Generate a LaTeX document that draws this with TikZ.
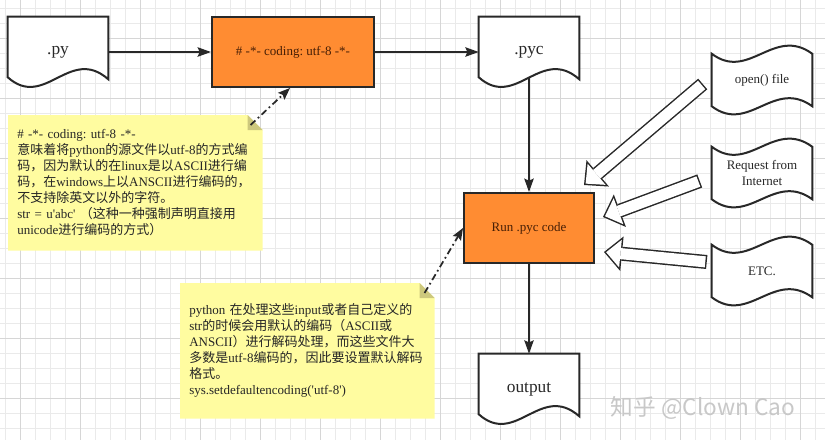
\documentclass[tikz,border=0pt]{standalone}
\usepackage{fontspec}
\newfontfamily\latfont{Liberation Serif}
\newfontfamily\cjkfont{Noto Sans CJK SC}
\newcommand\zh[1]{{\cjkfont #1}}
\frenchspacing
\usetikzlibrary{arrows.meta,calc}
\pgfdeclarelayer{grid}
\pgfdeclarelayer{shapes}
\pgfsetlayers{grid,shapes,main}

\definecolor{linecol}{RGB}{40,40,40}
\definecolor{boxorange}{RGB}{255,140,50}
\definecolor{boxtext}{RGB}{70,30,5}
\definecolor{notefill}{RGB}{255,252,160}
\definecolor{foldfill}{RGB}{205,200,125}
\definecolor{minorgrid}{RGB}{234,234,234}
\definecolor{majorgrid}{RGB}{214,214,214}
\definecolor{markgray}{RGB}{200,200,200}

\tikzset{
  flow/.style={draw=linecol, line width=1.5pt, -{Stealth[length=10pt,width=7pt,inset=1.5pt]}},
  hint/.style={draw=linecol, line width=1.3pt, dash pattern=on 5pt off 2.5pt on 1.3pt off 2.5pt, -{Stealth[length=9pt,width=7pt,inset=1.5pt]}},
  fatout/.style={draw=linecol, line width=10.5pt, -{Triangle[length=13.5pt,width=26pt,line width=0pt]}},
  fatin/.style={draw=white, line width=8.3pt, shorten <=1.1pt, shorten >=1.6pt, -{Triangle[length=10.8pt,width=20.8pt,line width=0pt]}},
  orangebox/.style={draw=linecol, line width=1.5pt, fill=boxorange, text=boxtext, inner sep=0pt, minimum height=52.5pt, font=\latfont\fontsize{9.75}{12}\selectfont},
  docbox/.style={minimum width=75pt, minimum height=52.5pt, inner sep=0pt, text=linecol, font=\latfont\fontsize{13}{15}\selectfont},
  tapebox/.style={minimum width=75pt, minimum height=39pt, inner sep=0pt, align=center, text=linecol, font=\latfont\fontsize{9.75}{12}\selectfont},
  outline/.style={draw=linecol, line width=1.5pt, fill=white},
  notebox/.style={anchor=north west, text width=177pt, inner xsep=6.75pt, inner ysep=0pt, minimum height=101.25pt, align=left, text=black!85, font=\latfont\fontsize{9.75}{12}\selectfont},
}

\begin{document}
\begin{tikzpicture}[x=0.75pt,y=0.75pt,yscale=-1,xscale=1]
\useasboundingbox (0,0) rectangle (825,440);

% grid paper
\begin{pgfonlayer}{grid}
  \fill[white] (0,0) rectangle (825,440);
  \foreach \x in {5,20,...,820} \draw[minorgrid, line width=0.6pt] (\x,0) -- (\x,440);
  \foreach \y in {8,23,...,438} \draw[minorgrid, line width=0.6pt] (0,\y) -- (825,\y);
  \foreach \x in {20,80,...,800} \draw[majorgrid, line width=0.6pt] (\x,0) -- (\x,440);
  \foreach \y in {38,98,...,398} \draw[majorgrid, line width=0.6pt] (0,\y) -- (825,\y);
\end{pgfonlayer}

% main column
\node[docbox] (py) at (58,52) {.py};
\node[orangebox, minimum width=121.5pt] (coding) at (293,52) {\# -*- coding: utf-8 -*-};
\node[docbox] (pyc) at (529,52) {.pyc};
\node[orangebox, minimum width=97.5pt] (run) at (529,228) {Run .pyc code};
\node[docbox] (out) at (529,389) {output};

% inputs
\node[tapebox] (open) at (762,80) {open() file};
\node[tapebox] (req) at (762,173) {Request from\\Internet};
\node[tapebox] (etc) at (762,271) {ETC.};

% notes
\node[notebox] (note1) at (8,115) {\# -*- coding: utf-8 -*-\\
\zh{意味着将}python\zh{的源文件以}utf-8\zh{的方式编}\\
\zh{码，因为默认的在}linux\zh{是以}ASCII\zh{进行编}\\
\zh{码，在}windows\zh{上以}ANSCII\zh{进行编码的，}\\
\zh{不支持除英文以外的字符。}\\
str = u'abc' \zh{（这种一种强制声明直接用}\\
unicode\zh{进行编码的方式）}};
\node[notebox] (note2) at (180,283) {python \zh{在处理这些}input\zh{或者自己定义的}\\
str\zh{的时候会用默认的编码（}ASCII\zh{或}\\
ANSCII\zh{）进行解码处理，而这些文件大}\\
\zh{多数是}utf-8\zh{编码的，因此要设置默认解码}\\
\zh{格式。}\\
sys.setdefaultencoding('utf-8')};

% shape outlines
\begin{pgfonlayer}{shapes}
  \foreach \n in {py,pyc,out}
    \draw[outline] (\n.north west) -- (\n.north east) -- ($(\n.south east)+(0,-8)$) .. controls ($(\n.south west)+(62,-42)$) and ($(\n.south west)+(37,23)$) .. ($(\n.south west)+(0,-10)$) -- cycle;
  \foreach \n in {open,req,etc}
    \draw[outline] (\n.north west) .. controls ($(\n.north west)+(37,28)$) and ($(\n.north west)+(62,-28)$) .. (\n.north east) -- (\n.south east) .. controls ($(\n.south west)+(62,-28)$) and ($(\n.south west)+(37,28)$) .. (\n.south west) -- cycle;
  \foreach \n in {note1,note2} {
    \fill[notefill] (\n.north west) -- ($(\n.north east)+(-15,0)$) -- ($(\n.north east)+(0,15)$) -- (\n.south east) -- (\n.south west) -- cycle;
    \fill[foldfill] ($(\n.north east)+(-15,0)$) -- ($(\n.north east)+(-15,15)$) -- ($(\n.north east)+(0,15)$) -- cycle;
  }
\end{pgfonlayer}

% connectors
\draw[flow] (py) -- (coding);
\draw[flow] (coding) -- (pyc);
\draw[flow] ($(pyc.south)+(0,-9)$) -- (run);
\draw[flow] (run) -- (out);
\draw[hint] ($(note1.north east)+(-12,10)$) -- ($(coding.south)+(-3,0)$);
\draw[hint] ($(note2.north east)+(-10,10)$) -- (run.west);

% hollow arrows into run
\coordinate (tailA) at ($(open.west)+(-9,4)$);
\coordinate (tipA) at ($(run.north east)+(-11,-7)$);
\coordinate (tailB) at ($(req.west)+(-12,8)$);
\coordinate (tipB) at ($(run.east)+(8,-11)$);
\coordinate (tailC) at ($(etc.west)+(-5,-9)$);
\coordinate (tipC) at ($(run.east)+(9,24)$);
\foreach \a/\b in {tailA/tipA,tailB/tipB,tailC/tipC} {
  \draw[fatout] (\a) -- (\b);
  \draw[fatin] (\a) -- (\b);
}

\node[text=markgray, font=\cjkfont\fontsize{17}{20}\selectfont] (mark) at (703,408) {知乎 @Clown Cao};
\end{tikzpicture}
\end{document}
